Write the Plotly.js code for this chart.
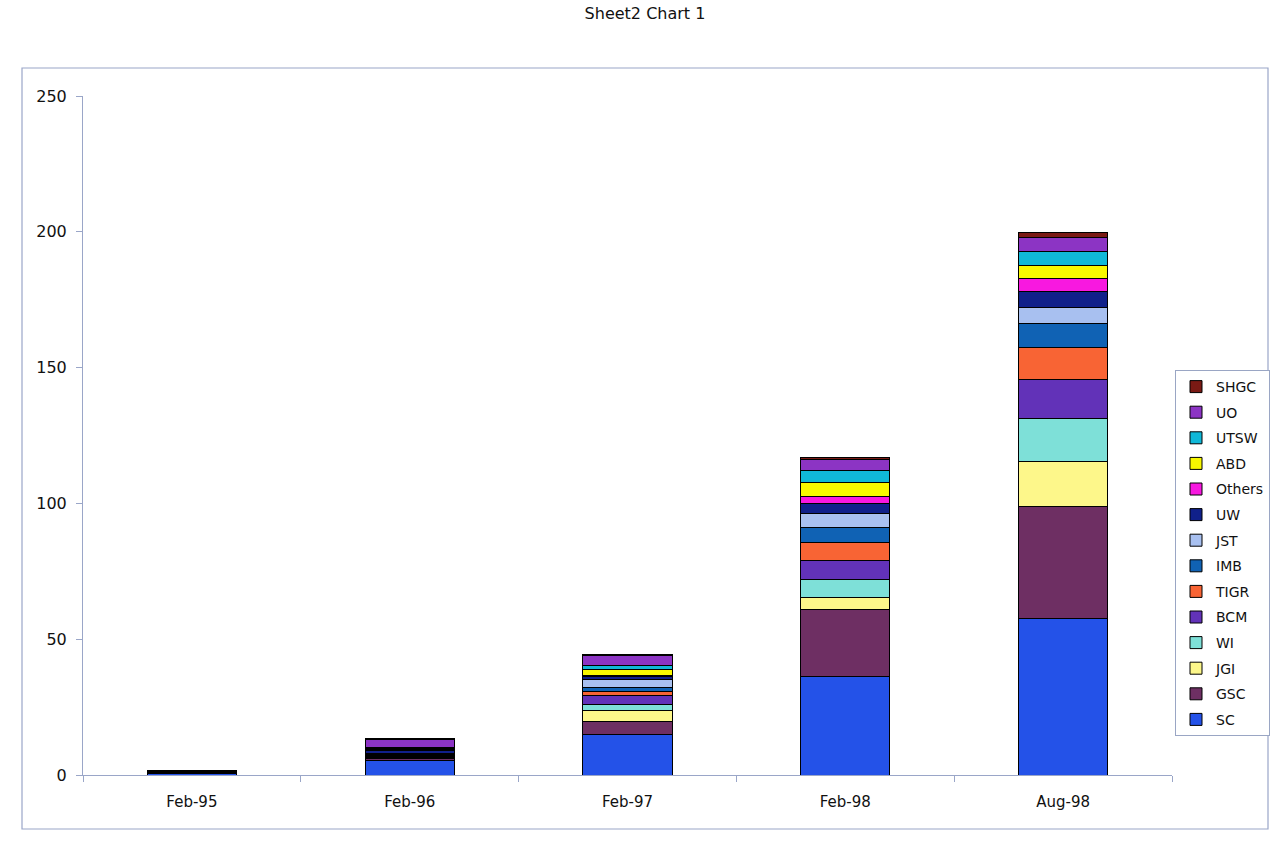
<!DOCTYPE html>
<html>
<head>
<meta charset="utf-8">
<script src="https://cdn.plot.ly/plotly-3.0.1.min.js"></script>
<style>html,body{margin:0;padding:0;background:#fff;}#chart{width:1280px;height:843px;}</style>
</head>
<body>
<div id="chart"></div>
<script>
const categories = ["Feb-95", "Feb-96", "Feb-97", "Feb-98", "Aug-98"];
const seriesNames = ["SC", "GSC", "JGI", "WI", "BCM", "TIGR", "IMB", "JST", "UW", "Others", "ABD", "UTSW", "UO", "SHGC"];
const SC     = [0.4, 5.2, 14.8, 36.4, 57.6];
const GSC    = [0.3, 1.0, 5.0, 24.6, 41.4];
const JGI    = [0.0, 0.3, 3.9, 4.3, 16.4];
const WI     = [0.1, 0.2, 2.3, 6.8, 16.0];
const BCM    = [0.1, 0.4, 3.1, 6.7, 14.1];
const TIGR   = [0.1, 0.2, 1.8, 6.7, 11.8];
const IMB    = [0.1, 0.4, 1.5, 5.6, 8.9];
const JST    = [0.1, 0.3, 2.7, 5.0, 6.1];
const UW     = [0.1, 1.2, 1.0, 3.7, 5.6];
const Others = [0.1, 0.2, 0.5, 2.9, 5.0];
const ABD    = [0.1, 0.5, 2.2, 5.0, 4.8];
const UTSW   = [0.1, 0.4, 1.6, 4.3, 5.2];
const UO     = [0.1, 2.9, 3.5, 4.3, 5.0];
const SHGC   = [0.0, 0.1, 0.3, 0.7, 2.0];
const seriesValues = [SC, GSC, JGI, WI, BCM, TIGR, IMB, JST, UW, Others, ABD, UTSW, UO, SHGC];
const seriesColors = ["#2452e8", "#6e2f63", "#fdf78a", "#7ee0d8", "#6232b8", "#f86434", "#1062b4", "#a8c0f0", "#10208a", "#f818e0", "#f8f800", "#10b8d8", "#8c34c4", "#7a1a14"];
const yTicks = [0, 50, 100, 150, 200, 250];

const traces = seriesNames.map((n, i) => ({
  type: "bar",
  name: n,
  legendgroup: n,
  legendrank: 100 + (seriesNames.length - i),
  x: categories,
  y: seriesValues[i],
  marker: {color: seriesColors[i], line: {color: "#000", width: 1}},
  hoverinfo: "name+y"
}));

const L = 83, R = 1172, T = 96, B = 775, W = 1280, H = 843;
const pw = R - L, ph = B - T;
const px = v => (v - L) / pw;
const py = v => (B - v) / ph;

const layout = {
  width: W, height: H,
  margin: {l: L, r: W - R, t: T, b: H - B, autoexpand: false},
  paper_bgcolor: "#fff", plot_bgcolor: "#fff",
  font: {family: "DejaVu Sans, sans-serif", color: "#111", size: 15},
  title: {text: "Sheet2 Chart 1", x: 645 / W, xref: "container", xanchor: "center", y: 1 - 13/H, yanchor: "middle", font: {size: 16, color: "#111"}},
  barmode: "stack",
  bargap: 0.59,
  showlegend: true,
  legend: {
    x: px(1175), y: py(370), xanchor: "left", yanchor: "top",
    traceorder: "grouped",
    bordercolor: "#9aa6c4", borderwidth: 1, bgcolor: "#fff",
    font: {size: 14, color: "#111"},
    itemwidth: 30, tracegroupgap: 4.4
  },
  xaxis: {
    type: "category", showgrid: false, zeroline: false,
    showline: true, linecolor: "#9aa6c8", linewidth: 1,
    ticks: "outside", ticklen: 6, tickcolor: "#9aa6c8", tickson: "boundaries",
    tickfont: {size: 15, color: "#111"}, ticklabelstandoff: 13
  },
  yaxis: {
    range: [0, 250], tickvals: yTicks, ticktext: yTicks.map(String),
    showgrid: false, zeroline: false,
    showline: true, linecolor: "#9aa6c8", linewidth: 1,
    ticks: "outside", ticklen: 6, tickcolor: "#9aa6c8",
    tickfont: {size: 16, color: "#111"}, ticklabelstandoff: 6
  },
  shapes: [{
    type: "rect", xref: "paper", yref: "paper",
    x0: px(22), x1: px(1268), y0: py(829), y1: py(68),
    line: {color: "#9aa6c8", width: 1.2}, fillcolor: "rgba(0,0,0,0)", layer: "below"
  }]
};

Plotly.newPlot("chart", traces, layout, {displayModeBar: false, staticPlot: true});
</script>
</body>
</html>
